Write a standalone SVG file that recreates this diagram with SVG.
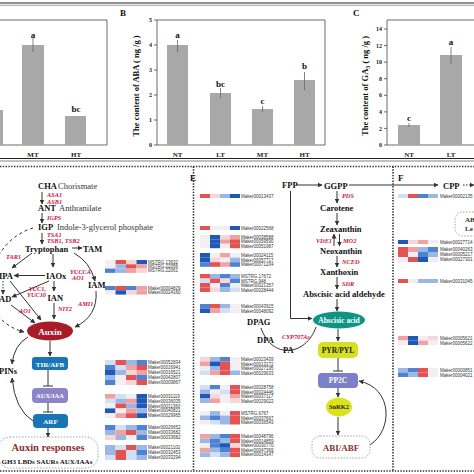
<svg xmlns="http://www.w3.org/2000/svg" width="474" height="474" viewBox="0 0 474 474">
<defs>
<marker id="ah" viewBox="0 0 10 10" refX="9" refY="5" markerWidth="5" markerHeight="5" orient="auto-start-reverse"><path d="M0,0 L10,5 L0,10 z" fill="#333"/></marker>
<style>
.ser{font-family:"Liberation Serif","Times New Roman",serif}
.b9{font-family:"Liberation Serif",serif;font-weight:bold;font-size:8.5px;fill:#111}
.reg{font-family:"Liberation Serif",serif;font-size:8.5px;fill:#333}
.red{font-family:"Liberation Serif",serif;font-style:italic;font-weight:bold;font-size:6.3px;fill:#c8143c}
.hl{font-family:"Liberation Sans",Arial,sans-serif;font-size:4.5px;fill:#333}
.tk{font-family:"Liberation Serif",serif;font-weight:bold;font-size:6px;fill:#222}
.xl{font-family:"Liberation Serif",serif;font-weight:bold;font-size:7px;fill:#222}
.let{font-family:"Liberation Serif",serif;font-weight:bold;font-size:9px;fill:#111}
.bar{fill:#a8a8a8}
.err{stroke:#666;stroke-width:0.8}
.ax{stroke:#444;stroke-width:0.8;fill:none}
.ln{stroke:#333;stroke-width:1;fill:none}
.dot{stroke:#333;stroke-width:1.6;stroke-dasharray:1.4 1.4;fill:none}
.db{fill:#1f58b5}.bb{fill:#4f83d1}.lb{fill:#9ab8e6}.vb{fill:#d3dff3}
.w{fill:#f2eff2}.vp{fill:#f7d6d6}.p{fill:#f0a2a2}.r{fill:#e35353}
.wt{font-family:"Liberation Serif",serif;font-weight:bold;fill:#fff;text-anchor:middle}
.dk{font-family:"Liberation Serif",serif;font-weight:bold;fill:#222;text-anchor:middle}
</style>
</defs>
<rect width="474" height="474" fill="#fff"/>

<!-- top frame -->
<line x1="0" y1="3" x2="474" y2="3" stroke="#222" stroke-width="1.2"/>
<line x1="0" y1="5.3" x2="474" y2="5.3" stroke="#666" stroke-width="0.6"/>
<line x1="0" y1="158.5" x2="474" y2="158.5" stroke="#222" stroke-width="1.2"/>
<line x1="0" y1="161" x2="474" y2="161" stroke="#666" stroke-width="0.8"/>

<!-- Panel A -->
<g id="panelA">
<path class="ax" d="M0,20 H107 V145 H0"/>
<rect class="bar" x="-5" y="110" width="8" height="35" fill="#bdbdbd"/>
<rect class="bar" x="22" y="45" width="22" height="100"/>
<line class="err" x1="33" y1="38" x2="33" y2="52"/>
<rect class="bar" x="65" y="116" width="21" height="29"/>
<text class="let" x="33" y="38" text-anchor="middle">a</text>
<text class="let" x="76" y="112" text-anchor="middle">bc</text>
<text class="xl" x="33" y="157" text-anchor="middle">MT</text>
<text class="xl" x="76" y="157" text-anchor="middle">HT</text>
</g>

<!-- Panel B -->
<g id="panelB">
<text class="let" x="120" y="16" font-size="10">B</text>
<text class="ser" font-weight="bold" font-size="8.5" fill="#111" text-anchor="middle" transform="translate(139,86) rotate(-90)">The content of ABA ( ng /g )</text>
<path class="ax" d="M157,20 H325 V145 H157 Z"/>
<g class="ax"><path d="M154,20H157M154,45H157M154,70H157M154,95H157M154,120H157M154,145H157"/></g>
<g class="tk" text-anchor="end">
<text x="152" y="22">5</text><text x="152" y="47">4</text><text x="152" y="72">3</text><text x="152" y="97">2</text><text x="152" y="122">1</text><text x="152" y="147">0</text>
</g>
<rect class="bar" x="167" y="45" width="21" height="100"/>
<rect class="bar" x="210" y="93" width="21" height="52"/>
<rect class="bar" x="252" y="109" width="21" height="36"/>
<rect class="bar" x="294" y="80" width="21" height="65"/>
<line class="err" x1="177.5" y1="40" x2="177.5" y2="52"/>
<line class="err" x1="220.5" y1="88" x2="220.5" y2="98"/>
<line class="err" x1="262.5" y1="106" x2="262.5" y2="112"/>
<line class="err" x1="304.5" y1="72" x2="304.5" y2="90"/>
<text class="let" x="177.5" y="38" text-anchor="middle">a</text>
<text class="let" x="220.5" y="87" text-anchor="middle">bc</text>
<text class="let" x="262.5" y="104" text-anchor="middle">c</text>
<text class="let" x="304.5" y="69" text-anchor="middle">b</text>
<text class="xl" x="177.5" y="157" text-anchor="middle">NT</text>
<text class="xl" x="220.5" y="157" text-anchor="middle">LT</text>
<text class="xl" x="262.5" y="157" text-anchor="middle">MT</text>
<text class="xl" x="304.5" y="157" text-anchor="middle">HT</text>
</g>

<!-- Panel C -->
<g id="panelC">
<text class="let" x="353" y="16" font-size="10">C</text>
<text class="ser" font-weight="bold" font-size="8.5" fill="#111" text-anchor="middle" transform="translate(368,86) rotate(-90)">The content of GA<tspan font-size="6" dy="2">3</tspan><tspan dy="-2"> ( ng /g )</tspan></text>
<path class="ax" d="M474,20 H387 V145 H474"/>
<g class="ax"><path d="M384,29H387M384,45.6H387M384,62.1H387M384,78.7H387M384,95.3H387M384,111.9H387M384,128.4H387M384,145H387"/></g>
<g class="tk" text-anchor="end">
<text x="382" y="31">14</text><text x="382" y="47.6">12</text><text x="382" y="64">10</text><text x="382" y="80.7">8</text><text x="382" y="97.3">6</text><text x="382" y="114">4</text><text x="382" y="130.5">2</text><text x="382" y="147">0</text>
</g>
<rect class="bar" x="398" y="125" width="22" height="20"/>
<rect class="bar" x="440" y="55" width="22" height="90"/>
<line class="err" x1="409" y1="123" x2="409" y2="127"/>
<line class="err" x1="451" y1="47" x2="451" y2="64"/>
<text class="let" x="409" y="121" text-anchor="middle">c</text>
<text class="let" x="451" y="45" text-anchor="middle">a</text>
<text class="xl" x="409" y="157" text-anchor="middle">NT</text>
<text class="xl" x="451" y="157" text-anchor="middle">LT</text>
</g>

<!-- bottom dotted frame -->
<g id="frame">
<line class="dot" x1="0" y1="166.5" x2="474" y2="166.5"/>
<line class="dot" x1="0" y1="471" x2="474" y2="471"/>
<line class="dot" x1="193.5" y1="166.5" x2="193.5" y2="471"/>
<line class="dot" x1="393" y1="166.5" x2="393" y2="471"/>
</g>

<!-- connectors -->
<g id="connectors">
<line class="ln" x1="42" y1="192" x2="42" y2="204" marker-end="url(#ah)"/>
<line class="ln" x1="42" y1="213" x2="42" y2="223" marker-end="url(#ah)"/>
<path class="ln" stroke-dasharray="3 3" d="M33,228 C12,234 -10,255 -10,290 C -10,315 8,328 24,332" marker-end="url(#ah)"/>
<line class="ln" x1="42" y1="233" x2="42" y2="244" marker-end="url(#ah)"/>
<line class="ln" x1="72" y1="248" x2="82" y2="248" marker-end="url(#ah)"/>
<line class="ln" x1="32" y1="253" x2="12" y2="268" marker-end="url(#ah)"/>
<line class="ln" x1="53" y1="254" x2="53" y2="267" marker-end="url(#ah)"/>
<path class="ln" d="M74,253 Q90,262 95,281" marker-end="url(#ah)"/>
<line class="ln" x1="45" y1="275.5" x2="14" y2="275.5" marker-end="url(#ah)"/>
<line class="ln" stroke-dasharray="1.5 1.5" x1="3" y1="281" x2="3" y2="294" marker-end="url(#ah)"/>
<line class="ln" x1="10" y1="281" x2="41" y2="320" marker-end="url(#ah)"/>
<line class="ln" x1="49" y1="281" x2="12" y2="297" marker-end="url(#ah)"/>
<line class="ln" x1="54" y1="281" x2="54" y2="291" marker-end="url(#ah)"/>
<line class="ln" x1="54" y1="303" x2="54" y2="319" marker-end="url(#ah)"/>
<line class="ln" x1="11" y1="305" x2="35" y2="323" marker-end="url(#ah)"/>
<path class="ln" d="M96,291 Q98,316 75,327" marker-end="url(#ah)"/>
<line class="ln" x1="50" y1="341" x2="50" y2="356" marker-end="url(#ah)"/>
<path class="ln" d="M28,337 Q14,345 12,364" marker-end="url(#ah)"/>
<path class="ln" d="M48,370 V386 M43,386 H53"/>
<path class="ln" d="M48,403 V412 M43,412 H53"/>
<path class="ln" d="M33,421 Q15,410 12,378" marker-end="url(#ah)"/>
<line class="ln" x1="48" y1="428" x2="48" y2="437" marker-end="url(#ah)"/>

<line class="ln" x1="296" y1="185" x2="322" y2="185" marker-end="url(#ah)"/>
<path class="ln" stroke="#555" d="M290.5,191 V318.5 H312" marker-end="url(#ah)"/>
<line class="ln" x1="349" y1="185" x2="438" y2="185" marker-end="url(#ah)"/>
<line class="ln" stroke-dasharray="1.5 1.5" x1="463" y1="185" x2="474" y2="185" marker-end="url(#ah)"/>
<line class="ln" x1="337" y1="191" x2="337" y2="203" marker-end="url(#ah)"/>
<line class="ln" x1="337" y1="213" x2="337" y2="225" marker-end="url(#ah)"/>
<line class="ln" x1="334" y1="246" x2="334" y2="234" marker-end="url(#ah)"/>
<line class="ln" x1="339.5" y1="234" x2="339.5" y2="246" marker-end="url(#ah)"/>
<line class="ln" x1="337" y1="256" x2="337" y2="267" marker-end="url(#ah)"/>
<line class="ln" x1="337" y1="277" x2="337" y2="289" marker-end="url(#ah)"/>
<line class="ln" x1="337" y1="299" x2="337" y2="311" marker-end="url(#ah)"/>
<line class="ln" x1="338" y1="329" x2="338" y2="341" marker-end="url(#ah)"/>
<path class="ln" d="M338,358 V371 M333,371 H343"/>
<line class="ln" x1="338" y1="388" x2="338" y2="397" marker-end="url(#ah)"/>
<line class="ln" x1="338" y1="417" x2="338" y2="435" marker-end="url(#ah)"/>
<path class="ln" d="M370,445 C393,430 393,388 359,381" marker-end="url(#ah)"/>
<path class="ln" d="M316,327 C306,356 272,360 261,328"/>
</g>

<!-- Panel D nodes -->
<g id="D-chorismate"><text class="b9" x="38" y="189" font-size="9.5">CHA</text><text class="reg" x="58" y="189">Chorismate</text></g>
<g id="D-enz1"><text class="red" x="47" y="196.5">ASA1</text><text class="red" x="47" y="203.5">ASB1</text></g>
<g id="D-anthranilate"><text class="b9" x="38" y="211" font-size="9.5">ANT</text><text class="reg" x="59" y="211">Anthranilate</text></g>
<g id="D-enz2"><text class="red" x="47" y="220">IGPS</text></g>
<g id="D-igp"><text class="b9" x="38" y="230" font-size="9.5">IGP</text><text class="reg" x="57" y="230">Indole-3-glycerol phosphate</text></g>
<g id="D-enz3"><text class="red" x="47" y="236.5">TSA1</text><text class="red" x="47" y="242.5">TSB1, TSB2</text></g>
<g id="D-trp"><text class="b9" x="25" y="251.5">Tryptophan</text></g>
<g id="D-tam"><text class="b9" x="83" y="251.5">TAM</text></g>
<g id="D-tar1"><text class="red" x="6" y="259">TAR1</text></g>
<g id="D-ipa"><text class="b9" x="-1" y="279">IPA</text></g>
<g id="D-iaox"><text class="b9" x="46" y="279">IAOx</text></g>
<g id="D-yucca"><text class="red" x="70" y="274">YUCCA</text><text class="red" x="72" y="280">AO1</text></g>
<g id="D-iam"><text class="b9" x="88" y="288">IAM</text></g>
<g id="D-ad"><text class="b9" x="-1" y="302">AD</text></g>
<g id="D-yuc"><text class="red" x="46" y="290.5" text-anchor="end">YUC1,</text><text class="red" x="46" y="296.5" text-anchor="end">YUC10</text></g>
<g id="D-ian"><text class="b9" x="47.5" y="301">IAN</text></g>
<g id="D-nit2"><text class="red" x="58" y="311">NIT2</text></g>
<g id="D-ao1"><text class="red" x="19" y="313">AO1</text></g>
<g id="D-ami1"><text class="red" x="78" y="306">AMI1</text></g>
<g id="D-auxin"><ellipse cx="50" cy="331" rx="23" ry="9.5" fill="#a81c2a"/><text class="wt" x="50" y="334.5" font-size="9">Auxin</text></g>
<g id="D-pins"><text class="b9" x="-1" y="374">PINs</text></g>
<g id="D-tir"><rect x="32" y="357" width="36" height="13" rx="3" fill="#1876b6"/><text class="wt" x="50" y="366.5" font-size="7">TIR/AFB</text></g>
<g id="D-auxiaa"><rect x="32" y="388" width="36" height="15" rx="4" fill="#8c85c6"/><text class="wt" x="50" y="398" font-size="6.5">AUX/IAA</text></g>
<g id="D-arf"><rect x="33" y="414" width="35" height="14" rx="4" fill="#1876b6"/><text class="wt" x="50.5" y="423.5" font-size="7">ARF</text></g>
<g id="D-resp"><rect x="-2" y="437" width="100" height="31" rx="12" fill="none" stroke="#999" stroke-width="0.9" stroke-dasharray="1.5 1.5"/>
<text class="ser" x="48" y="451" text-anchor="middle" font-size="10.5" font-weight="bold" fill="#8b3030">Auxin responses</text>
<text class="ser" x="47" y="464" text-anchor="middle" font-size="7" font-weight="bold" fill="#111">GH3 LBDs SAURs AUX/IAAs</text></g>

<!-- Panel D heatmaps -->
<g id="D-heat1">
<rect class="w" x="105" y="260" width="10.5" height="4.3"/><rect class="r" x="115.5" y="260" width="10.5" height="4.3"/><rect class="vp" x="126" y="260" width="10.5" height="4.3"/><rect class="db" x="136.5" y="260" width="10.5" height="4.3"/>
<rect class="w" x="105" y="264.3" width="10.5" height="4.3"/><rect class="lb" x="115.5" y="264.3" width="10.5" height="4.3"/><rect class="r" x="126" y="264.3" width="10.5" height="4.3"/><rect class="p" x="136.5" y="264.3" width="10.5" height="4.3"/>
<rect class="bb" x="105" y="268.6" width="10.5" height="4.3"/><rect class="lb" x="115.5" y="268.6" width="10.5" height="4.3"/><rect class="p" x="126" y="268.6" width="10.5" height="4.3"/><rect class="vp" x="136.5" y="268.6" width="10.5" height="4.3"/>
<text class="hl" x="148" y="263.8">MSTRG.13632</text><text class="hl" x="148" y="268.1">MSTRG.22056</text><text class="hl" x="148" y="272.4">MSTRG.22061</text>
</g>
<g id="D-heat2">
<rect class="bb" x="105" y="286" width="10.5" height="4.3"/><rect class="r" x="115.5" y="286" width="10.5" height="4.3"/><rect class="bb" x="126" y="286" width="10.5" height="4.3"/><rect class="p" x="136.5" y="286" width="10.5" height="4.3"/>
<rect class="w" x="105" y="290.3" width="10.5" height="4.3"/><rect class="db" x="115.5" y="290.3" width="10.5" height="4.3"/><rect class="vp" x="126" y="290.3" width="10.5" height="4.3"/><rect class="p" x="136.5" y="290.3" width="10.5" height="4.3"/>
<text class="hl" x="148" y="289.8">Maker00004829</text><text class="hl" x="148" y="294.1">Maker00024160</text>
</g>
<g id="D-heat3">
<rect class="vb" x="105" y="360" width="10.5" height="5"/><rect class="r" x="115.5" y="360" width="10.5" height="5"/><rect class="lb" x="126" y="360" width="10.5" height="5"/><rect class="bb" x="136.5" y="360" width="10.5" height="5"/>
<rect class="bb" x="105" y="365" width="10.5" height="5"/><rect class="vb" x="115.5" y="365" width="10.5" height="5"/><rect class="p" x="126" y="365" width="10.5" height="5"/><rect class="r" x="136.5" y="365" width="10.5" height="5"/>
<rect class="db" x="105" y="370" width="10.5" height="5"/><rect class="lb" x="115.5" y="370" width="10.5" height="5"/><rect class="vp" x="126" y="370" width="10.5" height="5"/><rect class="p" x="136.5" y="370" width="10.5" height="5"/>
<rect class="lb" x="105" y="375" width="10.5" height="5"/><rect class="w" x="115.5" y="375" width="10.5" height="5"/><rect class="r" x="126" y="375" width="10.5" height="5"/><rect class="bb" x="136.5" y="375" width="10.5" height="5"/>
<rect class="bb" x="105" y="380" width="10.5" height="5"/><rect class="w" x="115.5" y="380" width="10.5" height="5"/><rect class="vp" x="126" y="380" width="10.5" height="5"/><rect class="r" x="136.5" y="380" width="10.5" height="5"/>
<text class="hl" x="148" y="364">Maker00052834</text><text class="hl" x="148" y="369">Maker00016941</text><text class="hl" x="148" y="374">Maker00016521</text><text class="hl" x="148" y="379">Maker00042807</text><text class="hl" x="148" y="384">Maker00009867</text>
</g>
<g id="D-heat4">
<rect class="p" x="105" y="394" width="10.5" height="4.8"/><rect class="vb" x="115.5" y="394" width="10.5" height="4.8"/><rect class="w" x="126" y="394" width="10.5" height="4.8"/><rect class="db" x="136.5" y="394" width="10.5" height="4.8"/>
<rect class="vb" x="105" y="398.8" width="10.5" height="4.8"/><rect class="lb" x="115.5" y="398.8" width="10.5" height="4.8"/><rect class="p" x="126" y="398.8" width="10.5" height="4.8"/><rect class="db" x="136.5" y="398.8" width="10.5" height="4.8"/>
<rect class="w" x="105" y="403.6" width="10.5" height="4.8"/><rect class="r" x="115.5" y="403.6" width="10.5" height="4.8"/><rect class="lb" x="126" y="403.6" width="10.5" height="4.8"/><rect class="db" x="136.5" y="403.6" width="10.5" height="4.8"/>
<rect class="db" x="105" y="408.4" width="10.5" height="4.8"/><rect class="w" x="115.5" y="408.4" width="10.5" height="4.8"/><rect class="p" x="126" y="408.4" width="10.5" height="4.8"/><rect class="lb" x="136.5" y="408.4" width="10.5" height="4.8"/>
<rect class="w" x="105" y="413.2" width="10.5" height="4.8"/><rect class="p" x="115.5" y="413.2" width="10.5" height="4.8"/><rect class="r" x="126" y="413.2" width="10.5" height="4.8"/><rect class="db" x="136.5" y="413.2" width="10.5" height="4.8"/>
<text class="hl" x="148" y="398">Maker00031119</text><text class="hl" x="148" y="402.8">Maker00036035</text><text class="hl" x="148" y="407.6">Maker00011360</text><text class="hl" x="148" y="412.4">Maker00040821</text><text class="hl" x="148" y="417.2">Maker00029965</text>
</g>
<g id="D-heat5">
<rect class="bb" x="105" y="425" width="10.5" height="5"/><rect class="vb" x="115.5" y="425" width="10.5" height="5"/><rect class="lb" x="126" y="425" width="10.5" height="5"/><rect class="bb" x="136.5" y="425" width="10.5" height="5"/>
<rect class="lb" x="105" y="430" width="10.5" height="5"/><rect class="p" x="115.5" y="430" width="10.5" height="5"/><rect class="r" x="126" y="430" width="10.5" height="5"/><rect class="lb" x="136.5" y="430" width="10.5" height="5"/>
<rect class="vp" x="105" y="435" width="10.5" height="5"/><rect class="lb" x="115.5" y="435" width="10.5" height="5"/><rect class="w" x="126" y="435" width="10.5" height="5"/><rect class="bb" x="136.5" y="435" width="10.5" height="5"/>
<text class="hl" x="148" y="429">Maker00026652</text><text class="hl" x="148" y="434">Maker00033682</text><text class="hl" x="148" y="439">Maker00033682</text>
</g>
<g id="D-heat6">
<rect class="lb" x="105" y="445" width="10.5" height="5"/><rect class="vb" x="115.5" y="445" width="10.5" height="5"/><rect class="r" x="126" y="445" width="10.5" height="5"/><rect class="lb" x="136.5" y="445" width="10.5" height="5"/>
<rect class="lb" x="105" y="450" width="10.5" height="5"/><rect class="r" x="115.5" y="450" width="10.5" height="5"/><rect class="vb" x="126" y="450" width="10.5" height="5"/><rect class="bb" x="136.5" y="450" width="10.5" height="5"/>
<rect class="vb" x="105" y="455" width="10.5" height="5"/><rect class="r" x="115.5" y="455" width="10.5" height="5"/><rect class="vb" x="126" y="455" width="10.5" height="5"/><rect class="lb" x="136.5" y="455" width="10.5" height="5"/>
<text class="hl" x="148" y="449">Maker00021102</text><text class="hl" x="148" y="454">Maker00032453</text><text class="hl" x="148" y="459">Maker00033294</text>
</g>

<!-- Panel E -->
<g id="E-label"><text class="let" x="190" y="181" font-size="10">E</text></g>
<g id="E-fpp"><text class="b9" x="282" y="188">FPP</text></g>
<g id="E-ggpp"><text class="b9" x="324" y="189">GGPP</text></g>
<g id="E-pds"><text class="red" x="342" y="198">PDS</text></g>
<g id="E-carotene"><text class="b9" x="320" y="211">Carotene</text></g>
<g id="E-zeaxanthin"><text class="b9" x="320" y="232">Zeaxanthin</text></g>
<g id="E-vde"><text class="red" x="332" y="243" text-anchor="end">VDE1</text><text class="red" x="343" y="243">MO2</text></g>
<g id="E-neoxanthin"><text class="b9" x="320" y="254">Neoxanthin</text></g>
<g id="E-nced"><text class="red" x="342" y="264">NCED</text></g>
<g id="E-xanthoxin"><text class="b9" x="320" y="275">Xanthoxin</text></g>
<g id="E-sdr"><text class="red" x="342" y="286">SDR</text></g>
<g id="E-aldehyde"><text class="b9" x="303" y="297">Abscisic acid aldehyde</text></g>
<g id="E-aba"><ellipse cx="339" cy="320" rx="26" ry="8.5" fill="#0e9484"/><text class="wt" x="339" y="322.8" font-size="7.5">Abscisic acid</text></g>
<g id="E-pyr"><rect x="318" y="342" width="40" height="16" rx="5" fill="#d6e01e"/><text class="dk" x="338" y="352.5" font-size="7.5">PYR/PYL</text></g>
<g id="E-pp2c"><rect x="318" y="373" width="40" height="15" rx="4" fill="#7c80c8"/><text class="wt" x="338" y="383" font-size="7.5">PP2C</text></g>
<g id="E-snrk2"><ellipse cx="339" cy="407" rx="13" ry="9.5" fill="#dce21b"/><text class="dk" x="339" y="409.3" font-size="6.5">SnRK2</text></g>
<g id="E-abi"><rect x="312" y="436" width="58" height="22" rx="8" fill="none" stroke="#999" stroke-width="0.9" stroke-dasharray="1.5 1.5"/><text class="ser" x="341" y="450.5" text-anchor="middle" font-size="9" font-weight="bold" fill="#8b3030">ABI/ABF</text></g>
<g id="E-dpag"><text class="b9" x="247" y="325">DPAG</text></g>
<g id="E-dpa"><text class="b9" x="257" y="343">DPA</text></g>
<g id="E-pa"><text class="b9" x="283" y="353">PA</text></g>
<g id="E-cyp"><text class="red" x="282" y="339">CYP707As</text></g>

<!-- Panel E heatmaps -->
<g id="E-heat1">
<rect class="r" x="200" y="194" width="10" height="4"/><rect class="vp" x="210" y="194" width="10" height="4"/><rect class="lb" x="220" y="194" width="10" height="4"/><rect class="db" x="230" y="194" width="10" height="4"/>
<text class="hl" x="241" y="197.6">Maker00013437</text>
</g>
<g id="E-heat2">
<rect class="r" x="200" y="226" width="10" height="4"/><rect class="w" x="210" y="226" width="10" height="4"/><rect class="w" x="220" y="226" width="10" height="4"/><rect class="db" x="230" y="226" width="10" height="4"/>
<text class="hl" x="241" y="229.6">Maker00022568</text>
</g>
<g id="E-heat3">
<rect class="w" x="200" y="235" width="10" height="4.4"/><rect class="db" x="210" y="235" width="10" height="4.4"/><rect class="vp" x="220" y="235" width="10" height="4.4"/><rect class="p" x="230" y="235" width="10" height="4.4"/>
<rect class="w" x="200" y="239.4" width="10" height="4.4"/><rect class="db" x="210" y="239.4" width="10" height="4.4"/><rect class="p" x="220" y="239.4" width="10" height="4.4"/><rect class="r" x="230" y="239.4" width="10" height="4.4"/>
<rect class="w" x="200" y="243.8" width="10" height="4.4"/><rect class="db" x="210" y="243.8" width="10" height="4.4"/><rect class="w" x="220" y="243.8" width="10" height="4.4"/><rect class="r" x="230" y="243.8" width="10" height="4.4"/>
<text class="hl" x="241" y="238.8">Maker00038588</text><text class="hl" x="241" y="243.2">Maker00059590</text><text class="hl" x="241" y="247.6">Maker00051987</text>
</g>
<g id="E-heat4">
<rect class="db" x="200" y="253" width="10" height="4.6"/><rect class="w" x="210" y="253" width="10" height="4.6"/><rect class="p" x="220" y="253" width="10" height="4.6"/><rect class="w" x="230" y="253" width="10" height="4.6"/>
<rect class="db" x="200" y="257.6" width="10" height="4.6"/><rect class="vp" x="210" y="257.6" width="10" height="4.6"/><rect class="w" x="220" y="257.6" width="10" height="4.6"/><rect class="lb" x="230" y="257.6" width="10" height="4.6"/>
<rect class="bb" x="200" y="262.2" width="10" height="4.6"/><rect class="r" x="210" y="262.2" width="10" height="4.6"/><rect class="p" x="220" y="262.2" width="10" height="4.6"/><rect class="bb" x="230" y="262.2" width="10" height="4.6"/>
<text class="hl" x="241" y="257">Maker00024115</text><text class="hl" x="241" y="261.6">Maker00057717</text><text class="hl" x="241" y="266.2">Maker00071204</text>
</g>
<g id="E-heat5">
<rect class="r" x="200" y="274" width="10" height="4.5"/><rect class="lb" x="210" y="274" width="10" height="4.5"/><rect class="bb" x="220" y="274" width="10" height="4.5"/><rect class="lb" x="230" y="274" width="10" height="4.5"/>
<rect class="vb" x="200" y="278.5" width="10" height="4.5"/><rect class="r" x="210" y="278.5" width="10" height="4.5"/><rect class="vp" x="220" y="278.5" width="10" height="4.5"/><rect class="bb" x="230" y="278.5" width="10" height="4.5"/>
<rect class="r" x="200" y="283" width="10" height="4.5"/><rect class="w" x="210" y="283" width="10" height="4.5"/><rect class="bb" x="220" y="283" width="10" height="4.5"/><rect class="w" x="230" y="283" width="10" height="4.5"/>
<rect class="r" x="200" y="287.5" width="10" height="4.5"/><rect class="vp" x="210" y="287.5" width="10" height="4.5"/><rect class="lb" x="220" y="287.5" width="10" height="4.5"/><rect class="vb" x="230" y="287.5" width="10" height="4.5"/>
<text class="hl" x="241" y="278">MSTRG.17672</text><text class="hl" x="241" y="282.5">MSTRG.948</text><text class="hl" x="241" y="287">Maker00021357</text><text class="hl" x="241" y="291.5">Maker00028444</text>
</g>
<g id="E-heat6">
<rect class="bb" x="200" y="304" width="10" height="4.5"/><rect class="r" x="210" y="304" width="10" height="4.5"/><rect class="lb" x="220" y="304" width="10" height="4.5"/><rect class="w" x="230" y="304" width="10" height="4.5"/>
<rect class="db" x="200" y="308.5" width="10" height="4.5"/><rect class="p" x="210" y="308.5" width="10" height="4.5"/><rect class="vb" x="220" y="308.5" width="10" height="4.5"/><rect class="w" x="230" y="308.5" width="10" height="4.5"/>
<text class="hl" x="241" y="308">Maker00043915</text><text class="hl" x="241" y="312.5">Maker00048092</text>
</g>
<g id="E-heat7">
<rect class="vp" x="200" y="357" width="10" height="4.5"/><rect class="lb" x="210" y="357" width="10" height="4.5"/><rect class="bb" x="220" y="357" width="10" height="4.5"/><rect class="w" x="230" y="357" width="10" height="4.5"/>
<rect class="p" x="200" y="361.5" width="10" height="4.5"/><rect class="db" x="210" y="361.5" width="10" height="4.5"/><rect class="r" x="220" y="361.5" width="10" height="4.5"/><rect class="w" x="230" y="361.5" width="10" height="4.5"/>
<rect class="w" x="200" y="366" width="10" height="4.5"/><rect class="lb" x="210" y="366" width="10" height="4.5"/><rect class="r" x="220" y="366" width="10" height="4.5"/><rect class="w" x="230" y="366" width="10" height="4.5"/>
<rect class="vb" x="200" y="370.5" width="10" height="4.5"/><rect class="p" x="210" y="370.5" width="10" height="4.5"/><rect class="r" x="220" y="370.5" width="10" height="4.5"/><rect class="lb" x="230" y="370.5" width="10" height="4.5"/>
<text class="hl" x="241" y="361">Maker00023439</text><text class="hl" x="241" y="365.5">Maker00013172</text><text class="hl" x="241" y="370">Maker00027195</text><text class="hl" x="241" y="374.5">Maker00029633</text>
</g>
<g id="E-heat8">
<rect class="vb" x="200" y="385" width="10" height="4.5"/><rect class="bb" x="210" y="385" width="10" height="4.5"/><rect class="w" x="220" y="385" width="10" height="4.5"/><rect class="r" x="230" y="385" width="10" height="4.5"/>
<rect class="lb" x="200" y="389.5" width="10" height="4.5"/><rect class="w" x="210" y="389.5" width="10" height="4.5"/><rect class="vb" x="220" y="389.5" width="10" height="4.5"/><rect class="r" x="230" y="389.5" width="10" height="4.5"/>
<rect class="db" x="200" y="394" width="10" height="4.5"/><rect class="vp" x="210" y="394" width="10" height="4.5"/><rect class="w" x="220" y="394" width="10" height="4.5"/><rect class="p" x="230" y="394" width="10" height="4.5"/>
<rect class="lb" x="200" y="398.5" width="10" height="4.5"/><rect class="p" x="210" y="398.5" width="10" height="4.5"/><rect class="w" x="220" y="398.5" width="10" height="4.5"/><rect class="vp" x="230" y="398.5" width="10" height="4.5"/>
<text class="hl" x="241" y="389">Maker00028758</text><text class="hl" x="241" y="393.5">Maker00024446</text><text class="hl" x="241" y="398">Maker00037117</text><text class="hl" x="241" y="402.5">Maker00029022</text>
</g>
<g id="E-heat9">
<rect class="w" x="200" y="411" width="10" height="4.5"/><rect class="lb" x="210" y="411" width="10" height="4.5"/><rect class="w" x="220" y="411" width="10" height="4.5"/><rect class="r" x="230" y="411" width="10" height="4.5"/>
<rect class="lb" x="200" y="415.5" width="10" height="4.5"/><rect class="bb" x="210" y="415.5" width="10" height="4.5"/><rect class="lb" x="220" y="415.5" width="10" height="4.5"/><rect class="r" x="230" y="415.5" width="10" height="4.5"/>
<rect class="w" x="200" y="420" width="10" height="4.5"/><rect class="vb" x="210" y="420" width="10" height="4.5"/><rect class="lb" x="220" y="420" width="10" height="4.5"/><rect class="r" x="230" y="420" width="10" height="4.5"/>
<text class="hl" x="241" y="415">MSTRG.6767</text><text class="hl" x="241" y="419.5">Maker00037667</text><text class="hl" x="241" y="424">Maker00036543</text>
</g>
<g id="E-heat10">
<rect class="p" x="200" y="434" width="10" height="4.6"/><rect class="lb" x="210" y="434" width="10" height="4.6"/><rect class="bb" x="220" y="434" width="10" height="4.6"/><rect class="r" x="230" y="434" width="10" height="4.6"/>
<rect class="lb" x="200" y="438.6" width="10" height="4.6"/><rect class="bb" x="210" y="438.6" width="10" height="4.6"/><rect class="lb" x="220" y="438.6" width="10" height="4.6"/><rect class="r" x="230" y="438.6" width="10" height="4.6"/>
<rect class="w" x="200" y="443.2" width="10" height="4.6"/><rect class="bb" x="210" y="443.2" width="10" height="4.6"/><rect class="db" x="220" y="443.2" width="10" height="4.6"/><rect class="vp" x="230" y="443.2" width="10" height="4.6"/>
<rect class="p" x="200" y="447.8" width="10" height="4.6"/><rect class="lb" x="210" y="447.8" width="10" height="4.6"/><rect class="bb" x="220" y="447.8" width="10" height="4.6"/><rect class="r" x="230" y="447.8" width="10" height="4.6"/>
<rect class="lb" x="200" y="452.4" width="10" height="4.6"/><rect class="vb" x="210" y="452.4" width="10" height="4.6"/><rect class="lb" x="220" y="452.4" width="10" height="4.6"/><rect class="r" x="230" y="452.4" width="10" height="4.6"/>
<text class="hl" x="241" y="438">Maker00048796</text><text class="hl" x="241" y="442.6">Maker00014859</text><text class="hl" x="241" y="447.2">Maker00030770</text><text class="hl" x="241" y="451.8">Maker00047369</text><text class="hl" x="241" y="456.4">Maker00014147</text>
</g>

<!-- Panel F -->
<g id="F-label"><text class="let" x="398" y="181" font-size="10">F</text></g>
<g id="F-cpp"><text class="b9" x="443" y="189">CPP</text></g>
<g id="F-box"><rect x="455" y="212" width="40" height="24" rx="8" fill="none" stroke="#999" stroke-width="0.9" stroke-dasharray="1.5 1.5"/><text class="ser" x="465" y="222" font-size="7" font-weight="bold" fill="#333">AB</text><text class="ser" x="465" y="231" font-size="7" font-weight="bold" fill="#333">Le</text></g>
<g id="F-heat1">
<rect class="vb" x="398" y="194" width="10" height="4"/><rect class="r" x="408" y="194" width="10" height="4"/><rect class="bb" x="418" y="194" width="10" height="4"/><rect class="lb" x="428" y="194" width="10" height="4"/>
<text class="hl" x="440" y="197.6">Maker00002135</text>
</g>
<g id="F-heat2">
<rect class="db" x="398" y="240" width="10" height="4"/><rect class="vp" x="408" y="240" width="10" height="4"/><rect class="p" x="418" y="240" width="10" height="4"/><rect class="w" x="428" y="240" width="10" height="4"/>
<text class="hl" x="440" y="243.6">Maker00027714</text>
</g>
<g id="F-heat3">
<rect class="r" x="398" y="247" width="10" height="5"/><rect class="p" x="408" y="247" width="10" height="5"/><rect class="lb" x="418" y="247" width="10" height="5"/><rect class="bb" x="428" y="247" width="10" height="5"/>
<rect class="r" x="398" y="252" width="10" height="5"/><rect class="w" x="408" y="252" width="10" height="5"/><rect class="bb" x="418" y="252" width="10" height="5"/><rect class="lb" x="428" y="252" width="10" height="5"/>
<rect class="w" x="398" y="257" width="10" height="5"/><rect class="r" x="408" y="257" width="10" height="5"/><rect class="db" x="418" y="257" width="10" height="5"/><rect class="w" x="428" y="257" width="10" height="5"/>
<text class="hl" x="440" y="251">Maker00040263</text><text class="hl" x="440" y="256">Maker00005217</text><text class="hl" x="440" y="261">Maker00027301</text>
</g>
<g id="F-heat4">
<rect class="r" x="398" y="279" width="10" height="4"/><rect class="w" x="408" y="279" width="10" height="4"/><rect class="lb" x="418" y="279" width="10" height="4"/><rect class="lb" x="428" y="279" width="10" height="4"/>
<text class="hl" x="440" y="282.6">Maker00031045</text>
</g>
<g id="F-heat5">
<rect class="p" x="398" y="336" width="10" height="4.5"/><rect class="db" x="408" y="336" width="10" height="4.5"/><rect class="w" x="418" y="336" width="10" height="4.5"/><rect class="vp" x="428" y="336" width="10" height="4.5"/>
<rect class="w" x="398" y="340.5" width="10" height="4.5"/><rect class="db" x="408" y="340.5" width="10" height="4.5"/><rect class="p" x="418" y="340.5" width="10" height="4.5"/><rect class="w" x="428" y="340.5" width="10" height="4.5"/>
<text class="hl" x="440" y="340">Maker00005621</text><text class="hl" x="440" y="344.5">Maker00005622</text>
</g>
<g id="F-heat6">
<rect class="lb" x="398" y="368" width="10" height="4.5"/><rect class="bb" x="408" y="368" width="10" height="4.5"/><rect class="r" x="418" y="368" width="10" height="4.5"/><rect class="w" x="428" y="368" width="10" height="4.5"/>
<rect class="bb" x="398" y="372.5" width="10" height="4.5"/><rect class="lb" x="408" y="372.5" width="10" height="4.5"/><rect class="r" x="418" y="372.5" width="10" height="4.5"/><rect class="w" x="428" y="372.5" width="10" height="4.5"/>
<text class="hl" x="440" y="372">Maker00000851</text><text class="hl" x="440" y="376.5">Maker00004021</text>
</g>
</svg>
